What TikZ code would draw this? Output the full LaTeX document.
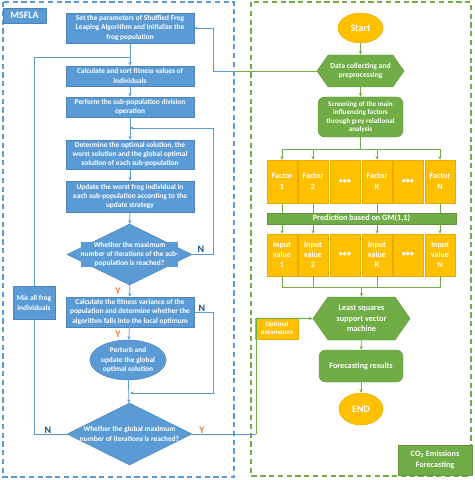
\documentclass[tikz,border=0pt]{standalone}
\usepackage{fontspec}
\setmainfont{Carlito}
\usetikzlibrary{shapes.geometric,shapes.symbols,arrows.meta}
\definecolor{msblue}{HTML}{5B9BD5}
\definecolor{msgreen}{HTML}{70AD47}
\definecolor{msgold}{HTML}{FFC000}
\definecolor{msorange}{HTML}{ED7D31}
\definecolor{msnavy}{HTML}{1F4E79}
\tikzset{
  frame/.style={line width=1pt,dash pattern=on 4.5pt off 3pt},
  blk/.style={draw=msblue!85!black,fill=msblue,text=white,align=center,inner sep=0pt,
    font=\bfseries\fontsize{6.3}{8}\selectfont},
  grn/.style={draw=msgreen!85!black,fill=msgreen,text=white,align=center,inner sep=0pt,
    font=\bfseries\fontsize{6.1}{7.2}\selectfont},
  gld/.style={draw=msgold!90!black,fill=msgold,text=white,align=center,inner sep=0pt,
    font=\bfseries\fontsize{6.9}{8.8}\selectfont},
  bline/.style={draw=msblue,line width=0.6pt},
  gline/.style={draw=msgreen,line width=0.6pt},
  ylab/.style={text=msorange,font=\bfseries\fontsize{8.5}{10}\selectfont},
  nlab/.style={text=msnavy,font=\bfseries\fontsize{8.5}{10}\selectfont},
}
\begin{document}
\begin{tikzpicture}[x=0.03cm,y=-0.03cm,>={Stealth[length=3.2pt,width=2.8pt]}]
    \useasboundingbox (0,0) rectangle (474,480);
    %% Frames
    \draw[frame,draw=msblue] (3,2) rectangle (234,477);
    \draw[frame,draw=msgreen] (251,2) rectangle (471,476);
    \node[blk,minimum width=1.29cm,minimum height=0.45cm,font=\bfseries\fontsize{8.5}{10}\selectfont] (L) at (24.5,15.5) {MSFLA};
    \node[grn,minimum width=2.22cm,minimum height=0.9cm,font=\bfseries\fontsize{7}{9.2}\selectfont] (R) at (435,460) {CO\textsubscript{2} Emissions\\Forecasting};
    %% MSFLA blocks
    \node[blk,minimum width=3.84cm,minimum height=0.9cm] (A) at (130,28) {Set the parameters of Shuffled Frog\\Leaping Algorithm and initialize the\\frog population};
    \node[blk,minimum width=3.84cm,minimum height=0.6cm] (B) at (130,76) {Calculate and sort fitness values of\\individuals};
    \node[blk,minimum width=3.84cm,minimum height=0.6cm] (C) at (130,107) {Perform the sub-population division\\operation};
    \node[blk,minimum width=3.84cm,minimum height=0.87cm] (D) at (130,154.5) {Determine the optimal solution, the\\worst solution and the global optimal\\solution of each sub-population};
    \node[blk,minimum width=3.84cm,minimum height=0.93cm] (E) at (130,196.5) {Update the worst frog individual in\\each sub-population according to the\\update strategy};
    \node[blk,diamond,minimum width=3.75cm,minimum height=1.83cm] (D1) at (129.5,254.5) {};
    \node[blk,draw=none] (D1t) at (D1) {Whether the maximum\\number of iterations of the sub-\\population is reached?};
    \node[blk,minimum width=3.84cm,minimum height=0.9cm] (F) at (130,312) {Calculate the fitness variance of the\\population and determine whether the\\algorithm falls into the local optimum};
    \node[blk,ellipse,minimum width=2.1cm,minimum height=1.2cm] (G) at (128,360) {Perturb and\\update the global\\optimal solution};
    \node[blk,diamond,minimum width=3.75cm,minimum height=1.86cm] (D2) at (129.5,434) {};
    \node[blk,draw=none] (D2t) at (D2) {Whether the global maximum\\number of iterations is reached?};
    \node[blk,minimum width=1.26cm,minimum height=0.99cm] (M) at (34,303) {Mix all frog\\individuals};
    %% MSFLA connectors
    \draw[bline,->] (A) -- (B);
    \draw[bline,->] (B) -- (C);
    \draw[bline,->] (C) -- (D);
    \draw[bline,->] (D) -- (E);
    \draw[bline,->] (E) -- (D1);
    \draw[bline,->] (D1) -- (F);
    \draw[bline,->] (F) -- (G);
    \draw[bline,->] (G) -- (D2);
    \coordinate (E1) at (213,128);
    \coordinate (J1) at (130,128);
    \draw[bline,->] (D1.east) -| (E1) -- (J1);
    \coordinate (E2) at (213,393);
    \coordinate (J2) at (130,393);
    \draw[bline,->] (F.east) -| (E2) -- (J2);
    \coordinate (J3) at (130,57);
    \draw[bline] (D2.west) -| (M.south);
    \draw[bline] (M.north) |- (J3);
    %% Y / N marks
    \node[ylab] (Y1) at (118,291) {Y};
    \node[ylab] (Y2) at (118,334) {Y};
    \node[ylab] (Y3) at (202,430) {Y};
    \node[nlab] (N1) at (201,249) {N};
    \node[nlab] (N2) at (202,308) {N};
    \node[nlab] (N3) at (48,430) {N};
    %% Forecasting blocks
    \node[gld,ellipse,minimum width=1.35cm,minimum height=0.9cm,font=\bfseries\fontsize{8.5}{10}\selectfont] (ST) at (360.5,28) {Start};
    \node[grn,signal,signal to=west and east,signal pointer angle=110,minimum width=2.61cm,minimum height=0.96cm,font=\bfseries\fontsize{6.5}{7.8}\selectfont] (DC) at (360.5,71) {Data collecting and\\preprocessing};
    \node[grn,rounded corners=1.2ex,minimum width=2.55cm,minimum height=1.2cm] (SC) at (360.5,117) {Screening of the main\\influencing factors\\through grey relational\\analysis};
    \node[gld,minimum width=0.9cm,minimum height=1.29cm] (F1) at (282,181.5) {Factor\\1};
    \node[gld,minimum width=0.9cm,minimum height=1.29cm] (F2) at (313,181.5) {Factor\\2};
    \node[gld,minimum width=0.9cm,minimum height=1.29cm] (F3) at (345,181.5) {\textbullet\textbullet\textbullet};
    \node[gld,minimum width=0.9cm,minimum height=1.29cm] (F4) at (377,181.5) {Factor\\K};
    \node[gld,minimum width=0.9cm,minimum height=1.29cm] (F5) at (408,181.5) {\textbullet\textbullet\textbullet};
    \node[gld,minimum width=0.9cm,minimum height=1.29cm] (F6) at (440,181.5) {Factor\\N};
    \node[grn,minimum width=5.67cm,minimum height=0.33cm,font=\bfseries\fontsize{7}{8}\selectfont] (P) at (361.5,218.5) {Prediction based on GM(1,1)};
    \node[gld,minimum width=0.9cm,minimum height=1.26cm] (V1) at (282,255) {Input\\value\\1};
    \node[gld,minimum width=0.9cm,minimum height=1.26cm] (V2) at (313,255) {Input\\value\\2};
    \node[gld,minimum width=0.9cm,minimum height=1.26cm] (V3) at (345,255) {\textbullet\textbullet\textbullet};
    \node[gld,minimum width=0.9cm,minimum height=1.26cm] (V4) at (377,255) {Input\\value\\K};
    \node[gld,minimum width=0.9cm,minimum height=1.26cm] (V5) at (408,255) {\textbullet\textbullet\textbullet};
    \node[gld,minimum width=0.9cm,minimum height=1.26cm] (V6) at (440,255) {Input\\value\\N};
    \node[grn,signal,signal to=west and east,signal pointer angle=110,minimum width=2.91cm,minimum height=1.29cm,font=\bfseries\fontsize{7}{9}\selectfont] (LS) at (361.5,318.5) {Least squares\\support vector\\machine};
    \node[grn,rounded corners=1.2ex,minimum width=2.52cm,minimum height=0.96cm,font=\bfseries\fontsize{7}{9}\selectfont] (FR) at (361,366) {Forecasting results};
    \node[gld,ellipse,minimum width=1.32cm,minimum height=0.96cm,font=\bfseries\fontsize{8.5}{10}\selectfont] (EN) at (361,409) {END};
    \node[gld,minimum width=1.29cm,minimum height=0.63cm,font=\bfseries\fontsize{5.8}{6.8}\selectfont] (OP) at (277,329) {Optimal\\parameters};
    %% Forecasting connectors
    \draw[gline,->] (ST) -- (DC);
    \draw[gline,->] (DC) -- (SC);
    \coordinate (H1) at (360.5,149);
    \draw[gline] (SC.south) -- (H1);
    \draw[gline] (F1.north |- H1) -- (F6.north |- H1);
    \draw[gline,->] (F1.north |- H1) -- (F1.north);
    \draw[gline,->] (F2.north |- H1) -- (F2.north);
    \draw[gline,->] (F4.north |- H1) -- (F4.north);
    \draw[gline,->] (F6.north |- H1) -- (F6.north);
    \draw[gline] (F1.south) -- (F1.south |- P.north);
    \draw[gline] (F2.south) -- (F2.south |- P.north);
    \draw[gline] (F4.south) -- (F4.south |- P.north);
    \draw[gline] (F6.south) -- (F6.south |- P.north);
    \draw[gline,->] (F1.south |- P.south) -- (V1.north);
    \draw[gline,->] (F2.south |- P.south) -- (V2.north);
    \draw[gline,->] (F4.south |- P.south) -- (V4.north);
    \draw[gline,->] (F6.south |- P.south) -- (V6.north);
    \coordinate (H2) at (361.5,287);
    \draw[gline] (V1.south) -- (V1.south |- H2) -- (V6.south |- H2) -- (V6.south);
    \draw[gline] (V2.south) -- (V2.south |- H2);
    \draw[gline] (V4.south) -- (V4.south |- H2);
    \draw[gline,->] (H2) -- (LS.north);
    \draw[gline,->] (LS) -- (FR);
    \draw[gline,->] (FR) -- (EN);
    %% Links between the two parts
    \coordinate (E3) at (256,434);
    \draw[bline] (D2.east) -- (E3);
    \draw[gline,->] (E3) |- (LS.west);
    \coordinate (E4) at (235,71);
    \coordinate (E5) at (213,28);
    \draw[gline] (DC.west) -- (E4);
    \draw[bline,->] (E4) -| (E5) -- (A.east);
\end{tikzpicture}
\end{document}
